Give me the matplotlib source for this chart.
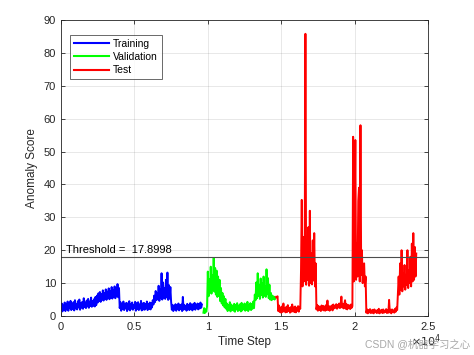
import numpy as np
import matplotlib
matplotlib.use("Agg")
import matplotlib.pyplot as plt
from matplotlib.ticker import FuncFormatter

plt.rcParams['font.family'] = ['Liberation Sans', 'Noto Sans CJK SC', 'DejaVu Sans']

STEP = 50
train_start = 0
val_start = 9700
test_start = 14650

train_vals = [
    2.0, 3.8, 1.4, 3.2, 1.9, 4.1, 1.5, 3.6, 2.2, 4.4,
    1.6, 3.9, 2.4, 4.6, 1.8, 3.4, 2.1, 4.2, 1.7, 4.8,
    2.3, 3.7, 2.0, 4.5, 2.6, 5.0, 1.9, 4.0, 2.5, 4.3,
    2.2, 5.4, 2.7, 4.1, 2.4, 4.7, 2.9, 5.2, 2.5, 4.4,
    3.0, 5.6, 2.8, 4.6, 3.1, 5.1, 2.9, 5.8, 3.3,
    6.2, 4.1, 6.9, 4.6, 7.3, 4.3, 6.6, 5.0, 7.8, 4.7,
    7.0, 5.2, 8.1, 4.9, 7.4, 5.5, 8.4, 5.1, 7.6, 5.6,
    8.8, 5.3, 7.9, 5.8, 9.0, 5.4, 8.3, 6.0, 9.7, 5.7, 8.5,
    2.4, 4.2, 1.6, 3.7, 2.1, 4.4, 1.8, 3.5, 2.3, 4.0,
    1.5, 3.8, 2.0, 4.5, 1.7, 3.6, 2.2, 4.1, 1.9, 3.4,
    2.4, 4.3, 1.6, 3.9, 2.1, 4.2, 1.8, 3.5, 2.3, 4.6,
    1.7, 3.8, 2.0, 4.0, 1.9, 3.6, 2.5, 4.4, 1.8, 3.7,
    2.2, 4.1, 2.0, 3.9, 2.6, 4.8,
    3.5, 6.2, 4.2, 7.6, 4.8, 6.9, 5.1, 9.2, 4.6, 8.0,
    5.4, 13.0, 5.0, 10.2, 5.6, 8.4, 5.2, 11.0, 5.8, 13.2,
    4.9, 9.4, 5.3, 8.8, 4.4,
    1.9, 3.4, 1.5, 3.1, 2.0, 3.6, 1.6, 3.3, 2.2, 3.8,
    1.7, 3.2, 2.1, 3.5, 1.5, 5.8, 1.9, 3.4, 2.3, 3.1,
    1.6, 3.7, 2.0, 3.3, 1.8, 3.9, 2.2, 3.5, 1.7, 3.6,
    2.1, 4.0, 1.9, 3.4, 2.4, 3.8, 2.0, 3.6, 2.3, 4.1,
    2.5, 3.5,
]

val_vals = [
    1.0, 2.4, 0.9, 2.0, 1.3, 3.0,
    13.5, 6.0, 11.2, 7.2, 15.0, 6.8, 12.4, 8.0, 17.6, 7.4,
    14.6, 6.5, 13.8, 5.8, 12.0, 6.2, 11.0,
    4.5, 8.5, 3.8, 7.0, 3.2, 6.0, 2.6, 5.2, 2.2,
    3.8, 1.5, 3.3, 1.8, 4.2, 1.4, 3.5, 1.9, 3.1, 1.6,
    3.7, 1.3, 3.4, 2.0, 3.9, 1.5, 3.2, 1.8, 3.6, 1.4,
    4.0, 1.7, 3.3, 2.1, 3.8, 1.6, 3.5, 1.9, 4.3, 1.5,
    3.4, 2.0, 3.9, 1.8, 3.6, 2.2, 4.4, 2.4,
    6.5, 4.8, 10.2, 5.4, 13.0, 6.0, 9.5, 5.2, 11.4, 6.4,
    10.0, 5.6, 12.0, 6.2, 9.0, 5.8, 14.2, 6.6, 11.5, 5.4, 9.5,
    5.0, 7.0, 4.8, 6.2, 5.2, 5.9, 5.0, 5.6,
]

test_vals = [
    5.8, 5.6, 6.0,
    1.5, 3.2, 1.2, 2.6, 1.0, 2.9, 1.3, 3.8, 1.4, 2.4,
    1.1, 2.8, 1.2, 3.3, 1.5, 2.5, 1.0, 2.7, 1.3, 3.5,
    1.4, 2.6, 1.2, 2.9, 1.1, 2.5, 1.6, 3.0, 1.3, 2.8, 2.2,
    14.0, 35.3, 9.0, 24.0, 10.5, 18.0, 85.8, 9.5, 22.0, 11.0,
    27.0, 9.2, 32.0, 10.0, 19.0, 9.6, 23.0, 10.8, 25.2, 9.0, 16.0,
    2.0, 3.4, 1.6, 3.0, 1.8, 2.8, 1.5, 3.2, 1.9, 3.1,
    1.7, 2.9, 1.6, 3.3, 1.8, 4.7, 1.9, 3.0, 1.6, 2.9,
    2.0, 3.2, 1.7, 3.5, 2.3, 3.1, 2.5, 3.6, 2.2, 3.4,
    2.6, 3.8, 2.4, 3.3, 5.9, 2.6, 3.7, 2.3, 3.5, 4.8,
    2.2, 3.6, 2.0, 3.4, 2.4, 3.2, 2.1, 3.5, 2.5, 3.0,
    54.5, 10.5, 28.0, 53.5, 11.0, 22.0, 12.0, 35.0, 39.0, 10.5,
    58.0, 12.5, 20.0, 10.0, 14.5, 16.0, 9.0, 12.0,
    1.0, 2.0, 0.8, 1.8, 1.1, 2.1, 0.9, 1.7, 1.0, 1.9,
    0.8, 2.0, 1.2, 1.6, 0.9, 1.8, 1.0, 2.2, 0.8, 1.7,
    1.1, 1.9, 0.9, 2.0, 1.0, 1.6, 1.2, 2.1, 0.9, 1.8,
    1.0, 4.9, 1.1, 1.9, 0.8, 2.0, 1.2, 1.7, 1.0, 2.2,
    1.3, 2.6, 1.8,
    7.0, 12.0, 6.5, 16.0, 8.0, 20.0, 7.5, 13.0, 9.0, 15.5,
    8.0, 12.5, 9.5, 20.0, 8.5, 14.0, 10.0, 18.0, 9.0, 22.0,
    10.5, 25.2, 11.0, 21.0, 12.0, 19.0,
]

threshold = 17.8998
series_labels = ["Training", "Validation", "Test"]
x_ticks = [0, 5000, 10000, 15000, 20000, 25000]
y_ticks = [0, 10, 20, 30, 40, 50, 60, 70, 80, 90]

t_train = train_start + STEP * np.arange(len(train_vals))
t_val = val_start + STEP * np.arange(len(val_vals))
t_test = test_start + STEP * np.arange(len(test_vals))

axc = (0.15, 0.15, 0.15)
fig = plt.figure(figsize=(4.74, 3.55), dpi=100)
ax = fig.add_axes([61/474, 1-316/355, (428-61)/474, (316-20)/355])

ax.plot(t_train, train_vals, color=(0, 0, 1), lw=1.4, label=series_labels[0])
ax.plot(t_val, val_vals, color=(0, 1, 0), lw=1.4, label=series_labels[1])
ax.plot(t_test, test_vals, color=(1, 0, 0), lw=1.4, label=series_labels[2])
ax.axhline(threshold, color=(0.3, 0.3, 0.3), lw=0.8)
ax.text(340, threshold + 0.7, "Threshold =  %.4f" % threshold, fontsize=8,
        color='black', va='bottom', ha='left')

ax.set_xlim(0, 25000)
ax.set_ylim(0, 90)
ax.set_xticks(x_ticks)
ax.set_yticks(y_ticks)
ax.xaxis.set_major_formatter(FuncFormatter(lambda v, p: ("%g" % (v / 1e4))))
ax.grid(True, color=(0.15, 0.15, 0.15), alpha=0.12, lw=0.6)
ax.set_axisbelow(True)
ax.tick_params(direction='in', length=3, width=0.6, colors=axc, labelsize=8,
               top=True, right=True, labelcolor=axc)
ax.tick_params(axis='x', pad=4)
for s in ax.spines.values():
    s.set_color(axc)
    s.set_linewidth(0.6)

ax.set_xlabel("Time Step", fontsize=8.5, color=axc, labelpad=3)
ax.set_ylabel("Anomaly Score", fontsize=8.5, color=axc, labelpad=4)

fig.text(411/474, 1-349/355, r"$\times10^{4}$", fontsize=8, color=axc, ha='left', va='bottom')
fig.text(1 - 4/474, 1-349/355, "CSDN @机器学习之心", fontsize=7.5,
         color=(0.6, 0.6, 0.6), ha='right', va='bottom', alpha=0.85)

leg = ax.legend(loc='upper left', bbox_to_anchor=(0.0245, 0.95), borderaxespad=0,
                fontsize=7.5, frameon=True, fancybox=False, handlelength=3.3,
                handletextpad=0.4, labelspacing=0.3, borderpad=0.4)
leg.get_frame().set_edgecolor(axc)
leg.get_frame().set_linewidth(0.6)
for line in leg.get_lines():
    line.set_linewidth(1.5)

fig.savefig("out.png", dpi=100)
